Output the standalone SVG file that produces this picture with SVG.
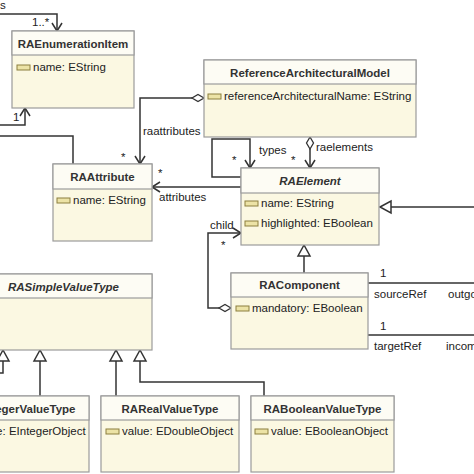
<svg xmlns="http://www.w3.org/2000/svg" width="474" height="474" viewBox="0 0 474 474">
<style>
.box{fill:#fbf8e2;stroke:#9b9b9b;stroke-width:1.2}
.hdr{fill:#fdfcf4;stroke:#9b9b9b;stroke-width:1.2}
.t{font-family:"Liberation Sans",Arial,sans-serif;font-size:11.5px;font-weight:bold;fill:#333;text-anchor:middle}
.ti{font-style:italic}
.a{font-family:"Liberation Sans",Arial,sans-serif;font-size:11.5px;fill:#222}
.ic{fill:#ece3a6;stroke:#8c7f3e;stroke-width:1}
.ln{fill:none;stroke:#333;stroke-width:1.5}
.open{fill:none;stroke:#333;stroke-width:1.5}
.tri{fill:#fff;stroke:#333;stroke-width:1.5}
.dia{fill:#fff;stroke:#333;stroke-width:1.3}
.lb{font-family:"Liberation Sans",Arial,sans-serif;font-size:11.5px;fill:#222}
</style>
<rect width="474" height="474" fill="#fff"/>
<g id="connectors">
<path class="ln" d="M0,14 H57 V31"/>
<path class="open" d="M52,23 L57,31 L62,23"/>
<path class="ln" d="M0,125 H25 V108"/>
<path class="open" d="M20,116 L25,108 L30,116"/>
<path class="ln" d="M0,136 H73 V164"/>
<path class="ln" d="M192,98 H140 V164"/>
<path class="open" d="M135,156 L140,164 L145,156"/>
<polygon class="dia" points="204,98 198,94.5 192,98 198,101.5"/>
<path class="ln" d="M241,187 H152"/>
<path class="open" d="M160,182 L152,187 L160,192"/>
<path class="ln" d="M241,177 H212 V139 H250 V168"/>
<path class="open" d="M245,160 L250,168 L255,160"/>
<path class="ln" d="M310,149 V168"/>
<path class="open" d="M305,160 L310,168 L315,160"/>
<polygon class="dia" points="310,137 306.5,143 310,149 313.5,143"/>
<path class="ln" d="M219,308 H208 V233 H241"/>
<path class="open" d="M233,228 L241,233 L233,238"/>
<polygon class="dia" points="231,308 225,304.5 219,308 225,311.5"/>
<path class="ln" d="M304,273 V256"/>
<polygon class="tri" points="304,245 298,256 310,256"/>
<path class="ln" d="M474,207 H391"/>
<polygon class="tri" points="380,207 391,201 391,213"/>
<path class="ln" d="M368,283 H474"/>
<path class="ln" d="M368,335 H474"/>
<path class="ln" d="M3,361 V373 H-10"/>
<path class="ln" d="M40,361 V396"/>
<path class="ln" d="M116,361 V396"/>
<path class="ln" d="M140,361 V382 H264 V396"/>
<polygon class="tri" points="3,350 -3,361 9,361"/>
<polygon class="tri" points="40,350 34,361 46,361"/>
<polygon class="tri" points="116,350 110,361 122,361"/>
<polygon class="tri" points="140,350 134,361 146,361"/>
<text class="lb" x="0" y="9">s</text>
<text class="lb" x="32" y="26">1..*</text>
<text class="lb" x="13" y="121">1</text>
<text class="lb" x="143" y="135">raattributes</text>
<text class="lb" x="121" y="161">*</text>
<text class="lb" x="158" y="177">*</text>
<text class="lb" x="159" y="201">attributes</text>
<text class="lb" x="210" y="229">child</text>
<text class="lb" x="221" y="249">*</text>
<text class="lb" x="232" y="164">*</text>
<text class="lb" x="259" y="154">types</text>
<text class="lb" x="291" y="164">*</text>
<text class="lb" x="316" y="151">raelements</text>
<text class="lb" x="380" y="277">1</text>
<text class="lb" x="374" y="298">sourceRef</text>
<text class="lb" x="448" y="298">outgo</text>
<text class="lb" x="380" y="330">1</text>
<text class="lb" x="374" y="350">targetRef</text>
<text class="lb" x="446" y="350">incom</text>
</g>
<g id="RAEnumerationItem">
<rect class="box" x="12" y="31" width="122" height="77"/>
<rect class="hdr" x="12" y="31" width="122" height="24"/>
<text class="t" x="73" y="48">RAEnumerationItem</text>
<rect class="ic" x="17" y="65" width="13" height="5"/>
<text class="a" x="33" y="71">name: EString</text>
</g>
<g id="ReferenceArchitecturalModel">
<rect class="box" x="204" y="60" width="212" height="77"/>
<rect class="hdr" x="204" y="60" width="212" height="24"/>
<text class="t" x="310" y="77">ReferenceArchitecturalModel</text>
<rect class="ic" x="208" y="94" width="13" height="5"/>
<text class="a" x="224" y="100">referenceArchitecturalName: EString</text>
</g>
<g id="RAAttribute">
<rect class="box" x="53" y="164" width="99" height="77"/>
<rect class="hdr" x="53" y="164" width="99" height="25"/>
<text class="t" x="102.5" y="181">RAAttribute</text>
<rect class="ic" x="57" y="198" width="13" height="5"/>
<text class="a" x="73" y="204">name: EString</text>
</g>
<g id="RAElement">
<rect class="box" x="241" y="168" width="138" height="77"/>
<rect class="hdr" x="241" y="168" width="138" height="25"/>
<text class="t ti" x="310" y="185">RAElement</text>
<rect class="ic" x="245" y="201" width="13" height="5"/>
<text class="a" x="261" y="207">name: EString</text>
<rect class="ic" x="245" y="221" width="13" height="5"/>
<text class="a" x="261" y="227">highlighted: EBoolean</text>
</g>
<g id="RAComponent">
<rect class="box" x="231" y="273" width="137" height="76"/>
<rect class="hdr" x="231" y="273" width="137" height="24"/>
<text class="t" x="299.5" y="289">RAComponent</text>
<rect class="ic" x="236" y="306" width="13" height="5"/>
<text class="a" x="252" y="312">mandatory: EBoolean</text>
</g>
<g id="RASimpleValueType">
<rect class="box" x="-24" y="274" width="176" height="76"/>
<rect class="hdr" x="-24" y="274" width="176" height="24"/>
<text class="t ti" x="8" y="291" style="text-anchor:start">RASimpleValueType</text>
</g>
<g id="RAIntegerValueType">
<rect class="box" x="-45" y="396" width="134" height="76"/>
<rect class="hdr" x="-45" y="396" width="134" height="24"/>
<text class="t" x="20" y="413">RAIntegerValueType</text>
<rect class="ic" x="-41" y="429" width="13" height="5"/>
<text class="a" x="-25" y="435">value: EIntegerObject</text>
</g>
<g id="RARealValueType">
<rect class="box" x="101" y="396" width="138" height="76"/>
<rect class="hdr" x="101" y="396" width="138" height="24"/>
<text class="t" x="170" y="413">RARealValueType</text>
<rect class="ic" x="106" y="429" width="13" height="5"/>
<text class="a" x="122" y="435">value: EDoubleObject</text>
</g>
<g id="RABooleanValueType">
<rect class="box" x="251" y="396" width="143" height="76"/>
<rect class="hdr" x="251" y="396" width="143" height="24"/>
<text class="t" x="322.5" y="413">RABooleanValueType</text>
<rect class="ic" x="255" y="429" width="13" height="5"/>
<text class="a" x="271" y="435">value: EBooleanObject</text>
</g>
</svg>
